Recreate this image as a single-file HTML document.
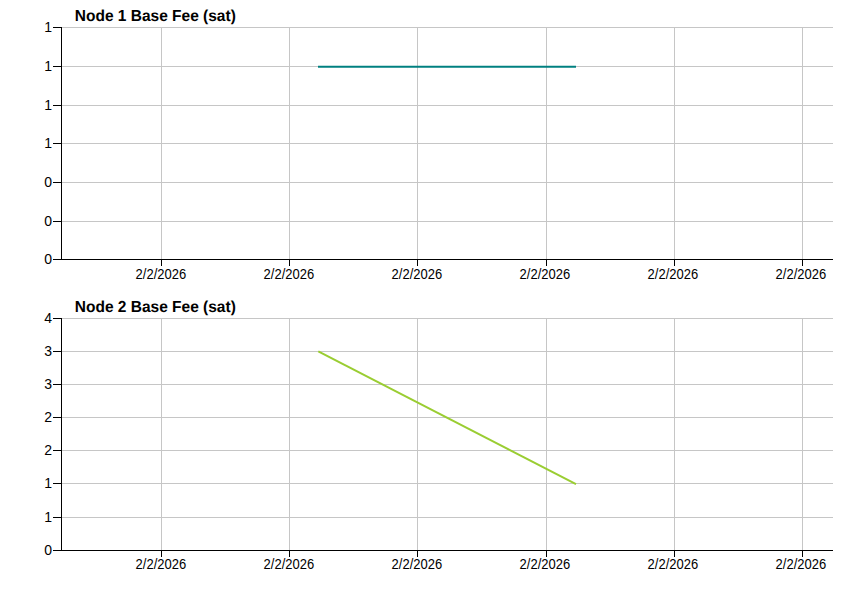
<!DOCTYPE html>
<html><head><meta charset="utf-8"><title>Base Fee</title>
<style>
html,body{margin:0;padding:0;background:#fff;width:860px;height:600px;overflow:hidden}
svg{position:absolute;left:0;top:0}
text{font-family:"Liberation Sans",sans-serif;fill:#000}
.yl{font-size:14px}
.xl{font-size:14px}
.tt{font-size:16px;font-weight:bold;text-rendering:geometricPrecision}
</style></head><body>
<svg width="860" height="600" viewBox="0 0 860 600">
<rect x="62" y="27" width="771" height="1" fill="#c6c6c6"/>
<rect x="62" y="66" width="771" height="1" fill="#c6c6c6"/>
<rect x="62" y="105" width="771" height="1" fill="#c6c6c6"/>
<rect x="62" y="143" width="771" height="1" fill="#c6c6c6"/>
<rect x="62" y="182" width="771" height="1" fill="#c6c6c6"/>
<rect x="62" y="221" width="771" height="1" fill="#c6c6c6"/>
<rect x="161" y="27" width="1" height="232" fill="#c6c6c6"/>
<rect x="289" y="27" width="1" height="232" fill="#c6c6c6"/>
<rect x="417" y="27" width="1" height="232" fill="#c6c6c6"/>
<rect x="546" y="27" width="1" height="232" fill="#c6c6c6"/>
<rect x="674" y="27" width="1" height="232" fill="#c6c6c6"/>
<rect x="802" y="27" width="1" height="232" fill="#c6c6c6"/>
<line x1="318" y1="66.7" x2="576" y2="66.7" stroke="#008080" stroke-width="2"/>
<rect x="61" y="27" width="1" height="233" fill="#000"/>
<rect x="53" y="259" width="780" height="1" fill="#000"/>
<rect x="53" y="27" width="8" height="1" fill="#000"/>
<rect x="53" y="66" width="8" height="1" fill="#000"/>
<rect x="53" y="105" width="8" height="1" fill="#000"/>
<rect x="53" y="143" width="8" height="1" fill="#000"/>
<rect x="53" y="182" width="8" height="1" fill="#000"/>
<rect x="53" y="221" width="8" height="1" fill="#000"/>
<rect x="161" y="260" width="1" height="6" fill="#000"/>
<rect x="289" y="260" width="1" height="6" fill="#000"/>
<rect x="417" y="260" width="1" height="6" fill="#000"/>
<rect x="546" y="260" width="1" height="6" fill="#000"/>
<rect x="674" y="260" width="1" height="6" fill="#000"/>
<rect x="802" y="260" width="1" height="6" fill="#000"/>
<text class="yl" x="52" y="31.5" text-anchor="end">1</text>
<text class="yl" x="52" y="70.5" text-anchor="end">1</text>
<text class="yl" x="52" y="109.5" text-anchor="end">1</text>
<text class="yl" x="52" y="147.5" text-anchor="end">1</text>
<text class="yl" x="52" y="186.5" text-anchor="end">0</text>
<text class="yl" x="52" y="225.5" text-anchor="end">0</text>
<text class="yl" x="52" y="263.5" text-anchor="end">0</text>
<text class="xl" x="160.85" y="279" text-anchor="middle" textLength="50.5" lengthAdjust="spacingAndGlyphs">2/2/2026</text>
<text class="xl" x="288.85" y="279" text-anchor="middle" textLength="50.5" lengthAdjust="spacingAndGlyphs">2/2/2026</text>
<text class="xl" x="416.85" y="279" text-anchor="middle" textLength="50.5" lengthAdjust="spacingAndGlyphs">2/2/2026</text>
<text class="xl" x="544.85" y="279" text-anchor="middle" textLength="50.5" lengthAdjust="spacingAndGlyphs">2/2/2026</text>
<text class="xl" x="672.85" y="279" text-anchor="middle" textLength="50.5" lengthAdjust="spacingAndGlyphs">2/2/2026</text>
<text class="xl" x="800.85" y="279" text-anchor="middle" textLength="50.5" lengthAdjust="spacingAndGlyphs">2/2/2026</text>
<text class="tt" x="74.8" y="21" textLength="161" lengthAdjust="spacingAndGlyphs">Node 1 Base Fee (sat)</text>
<rect x="62" y="318" width="771" height="1" fill="#c6c6c6"/>
<rect x="62" y="351" width="771" height="1" fill="#c6c6c6"/>
<rect x="62" y="384" width="771" height="1" fill="#c6c6c6"/>
<rect x="62" y="417" width="771" height="1" fill="#c6c6c6"/>
<rect x="62" y="450" width="771" height="1" fill="#c6c6c6"/>
<rect x="62" y="483" width="771" height="1" fill="#c6c6c6"/>
<rect x="62" y="517" width="771" height="1" fill="#c6c6c6"/>
<rect x="161" y="318" width="1" height="232" fill="#c6c6c6"/>
<rect x="289" y="318" width="1" height="232" fill="#c6c6c6"/>
<rect x="417" y="318" width="1" height="232" fill="#c6c6c6"/>
<rect x="546" y="318" width="1" height="232" fill="#c6c6c6"/>
<rect x="674" y="318" width="1" height="232" fill="#c6c6c6"/>
<rect x="802" y="318" width="1" height="232" fill="#c6c6c6"/>
<line x1="318.3" y1="351.3" x2="576.0" y2="484.1" stroke="#9ACD32" stroke-width="2"/>
<rect x="61" y="318" width="1" height="233" fill="#000"/>
<rect x="53" y="550" width="780" height="1" fill="#000"/>
<rect x="53" y="318" width="8" height="1" fill="#000"/>
<rect x="53" y="351" width="8" height="1" fill="#000"/>
<rect x="53" y="384" width="8" height="1" fill="#000"/>
<rect x="53" y="417" width="8" height="1" fill="#000"/>
<rect x="53" y="450" width="8" height="1" fill="#000"/>
<rect x="53" y="483" width="8" height="1" fill="#000"/>
<rect x="53" y="517" width="8" height="1" fill="#000"/>
<rect x="161" y="551" width="1" height="6" fill="#000"/>
<rect x="289" y="551" width="1" height="6" fill="#000"/>
<rect x="417" y="551" width="1" height="6" fill="#000"/>
<rect x="546" y="551" width="1" height="6" fill="#000"/>
<rect x="674" y="551" width="1" height="6" fill="#000"/>
<rect x="802" y="551" width="1" height="6" fill="#000"/>
<text class="yl" x="52" y="322.5" text-anchor="end">4</text>
<text class="yl" x="52" y="355.5" text-anchor="end">3</text>
<text class="yl" x="52" y="388.5" text-anchor="end">3</text>
<text class="yl" x="52" y="421.5" text-anchor="end">2</text>
<text class="yl" x="52" y="454.5" text-anchor="end">2</text>
<text class="yl" x="52" y="487.5" text-anchor="end">1</text>
<text class="yl" x="52" y="521.5" text-anchor="end">1</text>
<text class="yl" x="52" y="554.5" text-anchor="end">0</text>
<text class="xl" x="160.85" y="569" text-anchor="middle" textLength="50.5" lengthAdjust="spacingAndGlyphs">2/2/2026</text>
<text class="xl" x="288.85" y="569" text-anchor="middle" textLength="50.5" lengthAdjust="spacingAndGlyphs">2/2/2026</text>
<text class="xl" x="416.85" y="569" text-anchor="middle" textLength="50.5" lengthAdjust="spacingAndGlyphs">2/2/2026</text>
<text class="xl" x="544.85" y="569" text-anchor="middle" textLength="50.5" lengthAdjust="spacingAndGlyphs">2/2/2026</text>
<text class="xl" x="672.85" y="569" text-anchor="middle" textLength="50.5" lengthAdjust="spacingAndGlyphs">2/2/2026</text>
<text class="xl" x="800.85" y="569" text-anchor="middle" textLength="50.5" lengthAdjust="spacingAndGlyphs">2/2/2026</text>
<text class="tt" x="74.8" y="312" textLength="161" lengthAdjust="spacingAndGlyphs">Node 2 Base Fee (sat)</text>
</svg>
</body></html>
